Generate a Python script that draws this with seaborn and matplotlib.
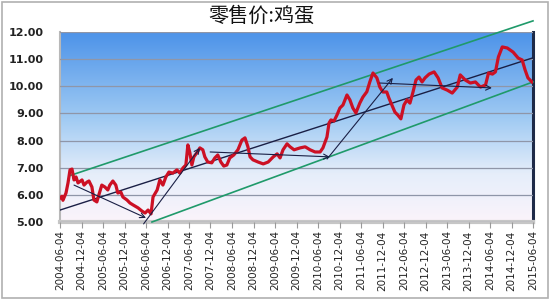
import numpy as np
import pandas as pd
import matplotlib
matplotlib.use("Agg")
import matplotlib.pyplot as plt
import matplotlib.dates as mdates
from matplotlib.colors import LinearSegmentedColormap
from matplotlib.patches import Rectangle
import seaborn as sns

# ---------------- data ----------------
title = "零售价:鸡蛋"
dates = [
    "2004-06-04", "2004-06-21", "2004-06-29", "2004-07-25", "2004-08-11", "2004-08-28",
    "2004-09-14", "2004-10-01", "2004-10-18", "2004-11-04", "2004-12-08", "2004-12-25",
    "2005-01-19", "2005-02-05", "2005-03-02", "2005-03-19", "2005-04-13", "2005-04-30",
    "2005-05-25", "2005-06-20", "2005-07-15", "2005-08-01", "2005-08-27", "2005-09-21",
    "2005-10-08", "2005-11-03", "2005-11-20", "2005-12-25", "2006-01-19", "2006-02-14",
    "2006-03-29", "2006-05-02", "2006-05-28", "2006-06-22", "2006-07-17", "2006-08-03",
    "2006-09-07", "2006-09-30", "2006-10-26", "2006-11-20", "2006-12-16", "2007-01-18",
    "2007-02-22", "2007-03-19", "2007-04-14", "2007-05-09", "2007-05-26", "2007-06-12",
    "2007-06-29", "2007-07-16", "2007-08-10", "2007-09-05", "2007-09-30", "2007-10-17",
    "2007-11-11", "2007-12-15", "2008-01-10", "2008-02-04", "2008-03-01", "2008-03-26",
    "2008-04-21", "2008-05-16", "2008-06-19", "2008-07-24", "2008-08-27", "2008-09-22",
    "2008-10-17", "2008-11-04", "2008-11-29", "2009-01-11", "2009-02-24", "2009-04-07",
    "2009-05-20", "2009-06-22", "2009-07-17", "2009-08-11", "2009-09-14", "2009-10-10",
    "2009-11-13", "2010-01-03", "2010-02-15", "2010-03-29", "2010-05-10", "2010-06-22",
    "2010-07-16", "2010-08-19", "2010-09-06", "2010-09-22", "2010-10-18", "2010-11-12",
    "2010-12-07", "2011-01-02", "2011-02-05", "2011-03-02", "2011-03-27", "2011-04-22",
    "2011-05-25", "2011-06-20", "2011-07-24", "2011-08-18", "2011-09-14", "2011-10-17",
    "2011-11-11", "2011-12-07", "2012-01-09", "2012-01-27", "2012-02-21", "2012-03-18",
    "2012-04-12", "2012-05-08", "2012-06-03", "2012-06-29", "2012-07-24", "2012-08-19",
    "2012-09-13", "2012-10-09", "2012-11-04", "2012-11-29", "2013-01-03", "2013-02-14",
    "2013-03-20", "2013-04-23", "2013-06-05", "2013-07-18", "2013-08-30", "2013-09-24",
    "2013-11-06", "2013-12-19", "2014-01-31", "2014-03-15", "2014-04-27", "2014-05-22",
    "2014-06-25", "2014-07-20", "2014-08-14", "2014-09-16", "2014-10-29", "2014-12-17",
    "2015-01-29", "2015-03-04", "2015-03-29", "2015-04-22", "2015-05-26",
]
prices = [
    5.88, 5.95, 5.80, 6.07, 6.44, 6.92,
    6.95, 6.55, 6.66, 6.44, 6.55, 6.36,
    6.47, 6.51, 6.29, 5.81, 5.74, 6.00,
    6.36, 6.29, 6.18, 6.36, 6.51, 6.36,
    6.07, 6.10, 5.92, 5.81, 5.70, 5.63,
    5.52, 5.40, 5.33, 5.44, 5.30, 5.92,
    6.18, 6.55, 6.36, 6.66, 6.84, 6.80,
    6.92, 6.80, 6.99, 7.10, 7.84, 7.55,
    7.10, 7.40, 7.55, 7.73, 7.66, 7.40,
    7.21, 7.18, 7.36, 7.47, 7.21, 7.06,
    7.10, 7.36, 7.47, 7.66, 8.02, 8.10,
    7.77, 7.40, 7.29, 7.21, 7.14, 7.21,
    7.40, 7.51, 7.36, 7.66, 7.88, 7.77,
    7.66, 7.73, 7.77, 7.66, 7.58, 7.58,
    7.73, 8.13, 8.65, 8.76, 8.72, 8.94,
    9.20, 9.31, 9.68, 9.50, 9.20, 9.02,
    9.38, 9.60, 9.80, 10.16, 10.49, 10.31,
    9.97, 9.79, 9.79, 9.57, 9.31, 9.05,
    8.94, 8.80, 9.31, 9.50, 9.38, 9.79,
    10.23, 10.34, 10.16, 10.31, 10.45, 10.53,
    10.31, 9.94, 9.86, 9.75, 9.97, 10.42,
    10.23, 10.12, 10.16, 9.97, 10.05, 10.49,
    10.45, 10.53, 11.08, 11.45, 11.41, 11.26,
    11.04, 10.97, 10.60, 10.31, 10.16,
]
tick_dates = [f"{y}-{m:02d}-04" for y in range(2004, 2016) for m in (6, 12)][:-1]
y_ticks = [5, 6, 7, 8, 9, 10, 11, 12]

# annotation lines: (start date, start value, end date, end value)
channel_upper = ("2004-08-20", 6.70, "2015-06-04", 12.41)
channel_lower = ("2006-07-25", 5.00, "2015-06-04", 10.16)
trend_main = ("2004-06-04", 5.44, "2015-06-04", 11.05)
arrow_segments = [
    ("2004-10-01", 6.36, "2006-06-04", 5.15),
    ("2006-05-15", 4.93, "2007-09-05", 7.73),
    ("2007-12-01", 7.58, "2010-09-12", 7.40),
    ("2010-08-20", 7.32, "2012-03-01", 10.31),
    ("2011-11-11", 10.12, "2014-06-20", 9.94),
]

# ---------------- figure ----------------
plt.rcParams["font.family"] = ["Noto Sans CJK SC", "DejaVu Sans"]

fig = plt.figure(figsize=(5.5, 3.0), dpi=100)
fig.patch.set_facecolor("white")
fig.add_artist(Rectangle((0.004, 0.006), 0.992, 0.988, transform=fig.transFigure,
                         fill=False, edgecolor="#b0b0b0", lw=1.2))
ax = fig.add_axes([60 / 550, 1 - 222 / 300, (533 - 60) / 550, (222 - 32) / 300])

# gradient background
cmap = LinearSegmentedColormap.from_list(
    "bg", [(0.0, "#fbf4fb"), (0.25, "#e6eefa"), (0.55, "#9fcaf3"), (1.0, "#4d93e9")])
grad = np.linspace(0, 1, 256).reshape(-1, 1)
ax.imshow(grad, cmap=cmap, origin="lower", extent=[0, 1, 0, 1], aspect="auto",
          transform=ax.transAxes, zorder=0)

df = pd.DataFrame({"date": pd.to_datetime(dates), "price": prices})
sns.lineplot(data=df, x="date", y="price", ax=ax, color="#cc1024", lw=2.3, zorder=5)

def seg(s):
    return [pd.Timestamp(s[0]), pd.Timestamp(s[2])], [s[1], s[3]]

gx, gy = seg(channel_upper)
ax.plot(gx, gy, color="#1f9a6a", lw=1.2, clip_on=False, zorder=4)
gx, gy = seg(channel_lower)
ax.plot(gx, gy, color="#1f9a6a", lw=1.2, clip_on=False, zorder=4)
gx, gy = seg(trend_main)
ax.plot(gx, gy, color="#1a1f45", lw=1.0, zorder=4)
for s in arrow_segments:
    ax.annotate("", xy=(mdates.date2num(pd.Timestamp(s[2])), s[3]),
                xytext=(mdates.date2num(pd.Timestamp(s[0])), s[1]),
                arrowprops=dict(arrowstyle="->", color="#1a1f45", lw=0.8,
                                mutation_scale=9, shrinkA=0, shrinkB=0),
                annotation_clip=False, zorder=6)

ax.set_xlim(pd.Timestamp("2004-06-04"), pd.Timestamp("2015-06-04"))
ax.set_ylim(5, 12)
ax.set_xticks(pd.to_datetime(tick_dates))
ax.set_xticklabels(tick_dates, rotation=90, fontsize=7.5, family="DejaVu Sans")
ax.set_yticks(y_ticks)
ax.set_yticklabels([f"{v:.2f}" for v in y_ticks], fontsize=8, fontweight="bold",
                   family="DejaVu Sans")
ax.set_xlabel("")
ax.set_ylabel("")
ax.grid(axis="y", color="#8f96a8", lw=0.9, zorder=1)
ax.grid(axis="x", visible=False)
ax.set_axisbelow(False)
ax.tick_params(axis="y", length=0, pad=12, colors="#222222")
ax.tick_params(axis="x", length=4, width=0.8, direction="out", color="#999999",
               pad=2, labelcolor="#222222")
ax.spines["top"].set_visible(False)
ax.spines["left"].set_color("#b8b8b8")
ax.spines["left"].set_linewidth(1.5)
ax.spines["bottom"].set_color("#c6c6c6")
ax.spines["bottom"].set_linewidth(3)
ax.spines["right"].set_color("#1e2a48")
ax.spines["right"].set_linewidth(2.2)

fig.text(261 / 550, 1 - 16 / 300, title, ha="center", va="center", fontsize=14.5,
         color="#111111")

fig.savefig("out.png", dpi=100, facecolor="white")
